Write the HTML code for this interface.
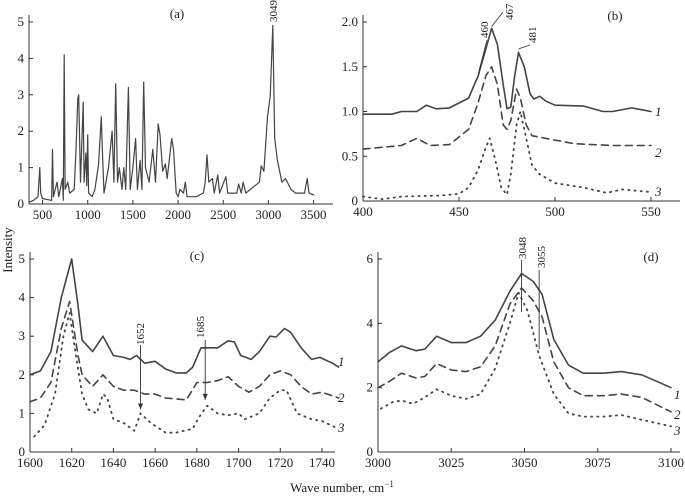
<!DOCTYPE html>
<html><head><meta charset="utf-8"><style>
html,body{margin:0;padding:0;background:#fff}
svg{display:block;font-family:"Liberation Serif",serif}
</style></head><body>
<svg id="chart" width="685" height="499" viewBox="0 0 685 499">
<text transform="translate(12,250) rotate(-90)" text-anchor="middle" font-size="13" fill="#222">Intensity</text>
<text x="342" y="492" text-anchor="middle" font-size="13" fill="#222">Wave number, cm<tspan dy="-5" font-size="9">−1</tspan></text>
</svg>
<script>
// ---- data (a) ----
const aX=[350,400,450,470,480,500,600,610,620,660,680,720,730,740,750,780,800,850,870,890,900,920,950,960,980,990,1000,1010,1050,1080,1120,1150,1160,1180,1230,1270,1290,1310,1330,1350,1380,1400,1420,1450,1470,1500,1530,1550,1580,1600,1620,1640,1680,1720,1750,1780,1800,1830,1860,1880,1930,1950,1980,2000,2020,2060,2080,2100,2200,2280,2300,2320,2340,2380,2400,2440,2460,2530,2550,2650,2670,2700,2720,2750,2850,2900,2920,2950,2990,3020,3049,3070,3100,3150,3190,3250,3300,3400,3430,3450,3500];
const aY=[0.05,0.1,0.2,1.0,0.3,0.15,0.1,1.5,0.2,0.6,0.2,0.7,0.1,4.1,0.4,0.6,0.3,0.4,1.5,2.9,3.0,0.6,2.8,0.6,1.4,0.5,1.9,0.3,0.2,0.4,1.1,2.4,1.6,0.3,1.0,2.0,0.6,3.3,0.6,1.0,0.4,1.0,0.4,3.2,0.4,1.0,1.8,0.4,1.2,0.4,3.35,1.0,0.6,1.5,0.6,2.2,1.9,0.9,1.1,0.7,1.8,1.5,0.3,0.2,0.4,0.3,0.6,0.2,0.2,0.3,0.6,1.35,0.6,0.7,0.3,0.8,0.3,0.75,0.3,0.3,0.55,0.3,0.6,0.3,0.5,0.6,1.05,0.9,2.4,2.95,4.9,1.8,1.2,0.6,0.7,0.4,0.3,0.3,0.7,0.3,0.25];
const aXTicks=[500,1000,1500,2000,2500,3000,3500];
const aYTicks=[0,1,2,3,4,5];
// ---- data (b) ----
const b1X=[400,415,420,428,433,438,445,455,460,464,467,470,473,475,477,479,481,484,487,489,492,495,500,515,525,530,540,550];
const b1Y=[0.97,0.97,1.0,1.0,1.07,1.03,1.04,1.15,1.4,1.7,1.93,1.75,1.3,1.03,1.05,1.4,1.66,1.5,1.2,1.14,1.17,1.12,1.07,1.06,1.0,1.0,1.04,1.0];
const b2X=[400,420,428,435,445,455,460,464,467,470,473,475,477,480,482,485,488,495,510,530,550];
const b2Y=[0.58,0.62,0.7,0.62,0.63,0.8,1.1,1.4,1.5,1.3,0.85,0.8,0.9,1.25,1.15,0.85,0.73,0.7,0.64,0.62,0.62];
const b3X=[400,410,420,440,450,455,460,464,466,469,472,475,477,480,482,485,488,492,500,515,527,535,550];
const b3Y=[0.05,0.02,0.05,0.06,0.08,0.15,0.35,0.6,0.7,0.45,0.15,0.07,0.3,0.85,1.0,0.7,0.4,0.3,0.2,0.15,0.09,0.13,0.1];
const bXTicks=[400,450,500,550];
const bYTicks=[0,0.5,1.0,1.5,2.0];
// ---- data (c) ----
const c1X=[1600,1605,1610,1615,1620,1623,1625,1630,1635,1640,1645,1648,1651,1655,1660,1665,1670,1675,1678,1682,1685,1690,1695,1698,1701,1706,1710,1715,1718,1722,1725,1730,1735,1739,1745,1748];
const c1Y=[2.0,2.1,2.6,4.0,5.0,3.8,2.9,2.6,3.0,2.5,2.45,2.4,2.5,2.3,2.35,2.15,2.05,2.05,2.2,2.7,2.7,2.7,2.88,2.85,2.5,2.4,2.6,3.0,2.98,3.2,3.1,2.7,2.4,2.45,2.3,2.2];
const c2X=[1600,1605,1610,1615,1619,1623,1625,1630,1635,1640,1645,1650,1655,1660,1665,1675,1680,1685,1690,1695,1700,1705,1710,1715,1720,1725,1730,1735,1740,1748];
const c2Y=[1.3,1.4,1.8,3.2,3.9,2.5,2.0,1.7,2.0,1.7,1.6,1.6,1.5,1.5,1.4,1.35,1.8,1.8,1.85,1.95,1.7,1.55,1.7,2.0,2.1,2.0,1.7,1.5,1.55,1.4];
const c3X=[1602,1607,1612,1616,1619,1622,1625,1628,1632,1635,1637,1640,1645,1650,1653,1658,1665,1670,1678,1681,1685,1690,1695,1700,1703,1710,1715,1720,1723,1728,1735,1740,1748];
const c3Y=[0.4,0.7,1.5,3.0,3.6,2.5,1.5,1.1,1.0,1.5,1.4,0.85,0.75,0.55,1.0,0.75,0.5,0.5,0.6,0.9,1.2,1.0,0.95,1.0,0.85,1.0,1.4,1.6,1.6,1.0,0.85,0.8,0.6];
const cXTicks=[1600,1620,1640,1660,1680,1700,1720,1740];
const cYTicks=[0,1,2,3,4,5];
// ---- data (d) ----
const d1X=[3000,3004,3008,3013,3016,3020,3025,3030,3035,3040,3045,3049,3053,3056,3060,3065,3070,3077,3083,3090,3095,3100];
const d1Y=[2.8,3.1,3.3,3.15,3.2,3.6,3.4,3.4,3.6,4.1,5.0,5.55,5.3,4.9,3.5,2.7,2.45,2.45,2.5,2.4,2.2,2.0];
const d2X=[3000,3004,3008,3013,3016,3020,3025,3030,3035,3040,3045,3049,3053,3056,3060,3065,3070,3077,3083,3090,3100];
const d2Y=[2.0,2.2,2.45,2.3,2.35,2.75,2.55,2.5,2.65,3.3,4.6,5.1,4.7,4.2,2.8,2.0,1.75,1.75,1.8,1.7,1.25];
const d3X=[3001,3005,3008,3012,3016,3020,3025,3030,3035,3040,3045,3048,3051,3055,3060,3065,3070,3077,3083,3090,3100];
const d3Y=[1.35,1.55,1.6,1.5,1.7,1.95,1.75,1.65,1.8,2.6,4.0,4.95,4.4,3.0,1.8,1.2,1.1,1.1,1.15,1.0,0.8];
const dXTicks=[3000,3025,3050,3075,3100];
const dYTicks=[0,2,4,6];

const svg=document.getElementById('chart');
const NS='http://www.w3.org/2000/svg';
function mk(tag,attrs,parent){const e=document.createElementNS(NS,tag);for(const k in attrs)e.setAttribute(k,attrs[k]);(parent||svg).appendChild(e);return e;}
const INK='#333';

function panel(id,cfg){
  const g=mk('g',{});
  
  
  const sx=v=>cfg.x0+(v-cfg.v0)*(cfg.x1-cfg.x0)/(cfg.v1-cfg.v0);
  const sy=v=>cfg.y0+(v-cfg.w0)*(cfg.y1-cfg.y0)/(cfg.w1-cfg.w0);
  const ax=mk('line',{x1:cfg.axL,y1:cfg.y0,x2:cfg.axR,y2:cfg.y0,stroke:INK,'stroke-width':1},g);
  
  
  const ay=mk('line',{x1:cfg.axL,y1:cfg.y0,x2:cfg.axL,y2:cfg.axT,stroke:INK,'stroke-width':1},g);
  
  
  cfg.xt.forEach(t=>{
    mk('line',{x1:sx(t),y1:cfg.y0,x2:sx(t),y2:cfg.y0-4,stroke:INK},g);
    const tx=mk('text',{x:sx(t),y:cfg.y0+15,'text-anchor':'middle','font-size':13,fill:'#222'},g);
    tx.textContent=t;
    
    
  });
  cfg.yt.forEach(t=>{
    mk('line',{x1:cfg.axL,y1:sy(t),x2:cfg.axL+4,y2:sy(t),stroke:INK},g);
    const tx=mk('text',{x:cfg.axL-5,y:sy(t)+4,'text-anchor':'end','font-size':13,fill:'#222'},g);
    tx.textContent=cfg.fmt?t.toFixed(1).replace(/^0\.0$/,'0'):t;
    
    
  });
  const styles=[{d:'',w:1.6},{d:'7 5',w:1.6},{d:'1.2 5',w:1.8}];
  cfg.series.forEach((s,i)=>{
    const pts=s[0].map((x,j)=>sx(x).toFixed(1)+','+sy(s[1][j]).toFixed(1)).join(' ');
    const pl=mk('polyline',{points:pts,fill:'none',stroke:i==0&&cfg.dark?'#333':'#444','stroke-width':cfg.single?1.2:styles[i].w,'stroke-dasharray':styles[i].d,'stroke-linecap':'round','stroke-linejoin':'round'},g);
    
    
  });
  const tl=mk('text',{x:cfg.tx,y:cfg.ty,'text-anchor':'middle','font-size':13,fill:'#222'},g);
  tl.textContent='('+id+')';
  
  
  return {g,sx,sy};
}
function vlabel(g,x,y,txt){
  const t=mk('text',{transform:`translate(${x},${y}) rotate(-90)`,'font-size':11,fill:'#222'},g);
  t.textContent=txt;
  
  
}
function curveLabel(g,x,y,txt){
  const t=mk('text',{x:x,y:y,'font-size':13,'font-style':'italic',fill:'#222'},g);
  t.textContent=txt;
  
  
}

// (a)
const A=panel('a',{x0:29,x1:300,v0:350,v1:3350,y0:204,y1:22,w0:0,w1:5,axL:29,axR:333,axT:15,xt:aXTicks,yt:aYTicks,series:[[aX,aY]],single:true,tx:177,ty:18});
vlabel(A.g,277,22,'3049');
// (b)
const B=panel('b',{x0:363,x1:651,v0:400,v1:550,y0:201,y1:22,w0:0,w1:2,axL:363,axR:680,axT:15,xt:bXTicks,yt:bYTicks,fmt:true,series:[[b1X,b1Y],[b2X,b2Y],[b3X,b3Y]],tx:615,ty:20});
[[B.sx(460),B.sy(1.42),487,40],[B.sx(467),B.sy(1.95),503,12],[B.sx(481),B.sy(1.7),530,45]].forEach(l=>mk('line',{x1:l[0],y1:l[1],x2:l[2],y2:l[3],stroke:INK,'stroke-width':0.8},B.g));
vlabel(B.g,488,38,'460');vlabel(B.g,513,20,'467');vlabel(B.g,536,43,'481');
curveLabel(B.g,655,116,'1');curveLabel(B.g,655,157,'2');curveLabel(B.g,655,196,'3');
// (c)
const C=panel('c',{x0:30,x1:322,v0:1600,v1:1740,y0:452,y1:259,w0:0,w1:5,axL:30,axR:335,axT:252,xt:cXTicks,yt:cYTicks,series:[[c1X,c1Y],[c2X,c2Y],[c3X,c3Y]],tx:197,ty:260});
function arrow(g,x,y1,y2){mk('line',{x1:x,y1:y1,x2:x,y2:y2,stroke:INK,'stroke-width':0.9},g);mk('polygon',{points:`${x-2.5},${y2-6} ${x+2.5},${y2-6} ${x},${y2}`,fill:INK},g);}
arrow(C.g,C.sx(1653),345,C.sy(1.1));arrow(C.g,C.sx(1684),340,C.sy(1.35));
vlabel(C.g,144,345,'1652');vlabel(C.g,204,338,'1685');
curveLabel(C.g,338,366,'1');curveLabel(C.g,338,402,'2');curveLabel(C.g,338,432,'3');
// (d)
const D=panel('d',{x0:378,x1:671,v0:3000,v1:3100,y0:452,y1:259,w0:0,w1:6,axL:378,axR:680,axT:252,xt:dXTicks,yt:dYTicks,series:[[d1X,d1Y],[d2X,d2Y],[d3X,d3Y]],tx:651,ty:261});
mk('line',{x1:D.sx(3049),y1:D.sy(4.35),x2:D.sx(3049),y2:260,stroke:INK,'stroke-width':0.9},D.g);
mk('line',{x1:D.sx(3055),y1:D.sy(3.2),x2:D.sx(3055),y2:270,stroke:INK,'stroke-width':0.9},D.g);
vlabel(D.g,526,259,'3048');vlabel(D.g,545,268,'3055');
curveLabel(D.g,674,399,'1');curveLabel(D.g,674,410+9,'2');curveLabel(D.g,674,435,'3');
</script>
</body></html>
